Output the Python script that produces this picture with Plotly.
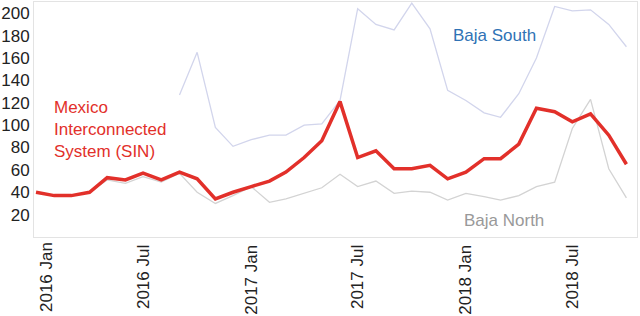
import plotly.graph_objects as go
import pandas as pd

months = pd.date_range("2016-01-01", "2018-10-01", freq="MS").strftime("%Y-%m-%d").tolist()

sin_values = [40, 37, 37, 40, 53, 51, 57, 51, 58, 52, 34, 40, 45, 50, 58, 71, 86, 121,
              71, 77, 61, 61, 64, 52, 58, 70, 70, 83, 115, 112, 103, 110, 91, 65]
baja_south = [None, None, None, None, None, None, None, None, 127, 165, 98, 81, 87, 91, 91,
              100, 101, 122, 204, 190, 185, 209, 186, 131, 122, 111, 107, 128, 160, 206,
              202, 203, 190, 170]
baja_north = [40, 37, 37, 40, 51, 48, 54, 49, 57, 40, 30, 37, 45, 31, 34, 39, 44, 56,
              45, 50, 39, 41, 40, 33, 39, 36, 33, 37, 45, 49, 97, 123, 61, 35]

x_tickvals = ["2016-07-01", "2017-01-01", "2017-07-01", "2018-01-01", "2018-07-01"]
x_ticktext = ["2016 Jul", "2017 Jan", "2017 Jul", "2018 Jan", "2018 Jul"]
first_tick = ("2016-01-01", "2016 Jan")
y_tickvals = [20, 40, 60, 80, 100, 120, 140, 160, 180, 200]

RED = "#e2302a"
LAV = "#d2d5ec"
GRAY = "#d3d3d3"
FONT = "Liberation Sans, Arial, sans-serif"

fig = go.Figure()
fig.add_trace(go.Scatter(x=months, y=baja_north, mode="lines",
                         line=dict(color=GRAY, width=1.3), hoverinfo="skip"))
fig.add_trace(go.Scatter(x=months, y=baja_south, mode="lines",
                         line=dict(color=LAV, width=1.3), hoverinfo="skip"))
fig.add_trace(go.Scatter(x=months, y=sin_values, mode="lines",
                         line=dict(color=RED, width=3.5), hoverinfo="skip"))

fig.add_annotation(x="2016-01-28", y=96, xref="x", yref="y",
                   text="Mexico<br>Interconnected<br>System (SIN)", showarrow=False,
                   xanchor="left", yanchor="middle", align="left",
                   font=dict(size=17, color=RED, family=FONT))
fig.add_annotation(x="2018-02-18", y=180, xref="x", yref="y", text="Baja South",
                   showarrow=False, xanchor="center", yanchor="middle",
                   font=dict(size=17, color="#2f72b5", family=FONT))
fig.add_annotation(x="2018-03-06", y=15, xref="x", yref="y", text="Baja North",
                   showarrow=False, xanchor="center", yanchor="middle",
                   font=dict(size=17, color="#999999", family=FONT))
fig.add_annotation(x=first_tick[0], y=0, xref="x", yref="paper", text=first_tick[1],
                   showarrow=False, textangle=-90, xanchor="center", yanchor="top",
                   xshift=10, yshift=-3,
                   font=dict(size=17, color="#222222", family=FONT))

fig.update_layout(
    width=640, height=316,
    margin=dict(l=33, r=3, t=1, b=77),
    paper_bgcolor="white", plot_bgcolor="white",
    showlegend=False,
    font=dict(family=FONT, size=17, color="#222222"),
)
fig.update_xaxes(type="date", range=["2015-12-28 14:00", "2018-10-19"],
                 tickvals=x_tickvals, ticktext=x_ticktext, tickangle=-90,
                 showgrid=False, zeroline=False, showline=True, mirror=True,
                 linecolor="#e3e3e3", linewidth=1, ticks="",
                 tickfont=dict(size=17, color="#222222", family=FONT))
fig.update_yaxes(range=[0, 210], tickvals=y_tickvals, showgrid=False, zeroline=False,
                 showline=True, mirror=True, linecolor="#e3e3e3", linewidth=1, ticks="",
                 tickfont=dict(size=17, color="#222222", family=FONT))

fig.write_html("out.html")
